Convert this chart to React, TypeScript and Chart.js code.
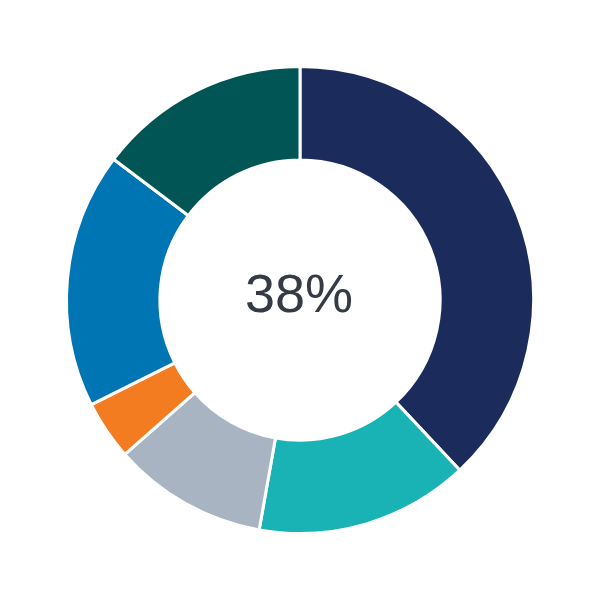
import { useEffect, useRef } from "react";
import { Chart, registerables } from "chart.js";

Chart.register(...registerables);

const segmentLabels = ["Navy", "Teal", "Gray", "Orange", "Blue", "Green"];
const segmentValues = [38, 14.8, 10.7, 4.1, 17.7, 14.7];
const segmentColors = ["#1b2b5b", "#1ab3b5", "#a9b4c3", "#f47c20", "#0075b3", "#015655"];
const centerLabel = "38%";

const centerText = {
  id: "centerText",
  afterDraw(chart: Chart) {
    const { ctx, chartArea } = chart;
    const x = (chartArea.left + chartArea.right) / 2;
    const y = (chartArea.top + chartArea.bottom) / 2;
    ctx.save();
    ctx.font = '54px "Liberation Sans", Arial, sans-serif';
    ctx.fillStyle = "#353b45";
    ctx.textAlign = "center";
    ctx.textBaseline = "middle";
    ctx.fillText(centerLabel, x - 1, y - 3);
    ctx.restore();
  },
};

export default function App() {
  const chartRef = useRef<HTMLCanvasElement>(null);
  const chartInstance = useRef<Chart | null>(null);

  useEffect(() => {
    if (!chartRef.current) return;

    if (chartInstance.current) {
      chartInstance.current.destroy();
    }

    const ctx = chartRef.current.getContext("2d");
    if (!ctx) return;

    chartInstance.current = new Chart(ctx, {
      type: "doughnut",
      data: {
        labels: segmentLabels,
        datasets: [
          {
            data: segmentValues,
            backgroundColor: segmentColors,
            borderColor: "#ffffff",
            borderWidth: 3,
            hoverOffset: 0,
          },
        ],
      },
      options: {
        responsive: true,
        maintainAspectRatio: false,
        animation: false,
        cutout: "60%",
        layout: { padding: 65 },
        plugins: {
          legend: { display: false },
          tooltip: { enabled: false },
        },
      },
      plugins: [centerText],
    });

    return () => {
      if (chartInstance.current) {
        chartInstance.current.destroy();
        chartInstance.current = null;
      }
    };
  }, []);

  return (
    <div style={{ position: "fixed", left: 0, top: 0, width: 600, height: 600, background: "#fff" }}>
      <canvas ref={chartRef} />
    </div>
  );
}
